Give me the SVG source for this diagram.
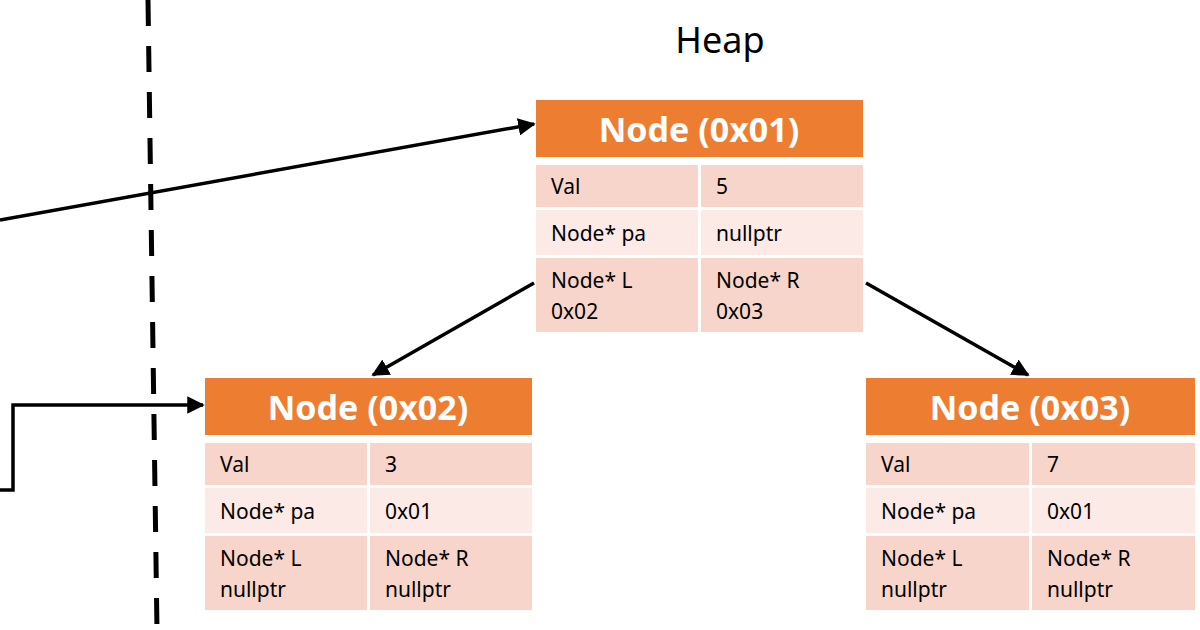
<svg xmlns="http://www.w3.org/2000/svg" width="1200" height="630" viewBox="0 0 1200 630">
<defs>
<marker id="ah" viewBox="0 0 10 10" refX="9" refY="5" markerWidth="5" markerHeight="5" orient="auto" markerUnits="strokeWidth"><path d="M0,0 L10,5 L0,10 z" fill="#000"/></marker>
<style>
.hd{fill:#ED7D31}
.dk{fill:#F8D5CB}
.lt{fill:#FBEAE6}
.ht{font-family:"Noto Sans","Open Sans",sans-serif;font-weight:bold;font-size:34px;fill:#fff;text-anchor:middle}
.tx{font-family:"Noto Sans","Open Sans",sans-serif;font-size:21px;fill:#000}
.cn{stroke:#000;stroke-width:3.5;fill:none}
</style>
</defs>
<rect width="1200" height="630" fill="#fff"/>
<line x1="148" y1="0" x2="157" y2="630" stroke="#000" stroke-width="5" stroke-dasharray="26,20"/>
<text x="720" y="53" font-family="'Noto Sans','Open Sans',sans-serif" font-size="36" text-anchor="middle">Heap</text>
<g id="node01" transform="translate(536,100)">
<rect class="hd" width="327" height="57"/>
<text class="ht" x="163" y="42">Node (0x01)</text>
<rect class="dk" y="65" width="162" height="42"/><rect class="dk" x="165" y="65" width="162" height="42"/>
<rect class="lt" y="110" width="162" height="45"/><rect class="lt" x="165" y="110" width="162" height="45"/>
<rect class="dk" y="158" width="162" height="74"/><rect class="dk" x="165" y="158" width="162" height="74"/>
<text class="tx" x="15" y="94">Val</text><text class="tx" x="180" y="94">5</text>
<text class="tx" x="15" y="141">Node* pa</text><text class="tx" x="180" y="141">nullptr</text>
<text class="tx" x="15" y="188">Node* L</text><text class="tx" x="180" y="188">Node* R</text>
<text class="tx" x="15" y="219">0x02</text><text class="tx" x="180" y="219">0x03</text>
</g>
<g id="node02" transform="translate(205,378)">
<rect class="hd" width="327" height="57"/>
<text class="ht" x="163" y="42">Node (0x02)</text>
<rect class="dk" y="65" width="162" height="42"/><rect class="dk" x="165" y="65" width="162" height="42"/>
<rect class="lt" y="110" width="162" height="45"/><rect class="lt" x="165" y="110" width="162" height="45"/>
<rect class="dk" y="158" width="162" height="74"/><rect class="dk" x="165" y="158" width="162" height="74"/>
<text class="tx" x="15" y="94">Val</text><text class="tx" x="180" y="94">3</text>
<text class="tx" x="15" y="141">Node* pa</text><text class="tx" x="180" y="141">0x01</text>
<text class="tx" x="15" y="188">Node* L</text><text class="tx" x="180" y="188">Node* R</text>
<text class="tx" x="15" y="219">nullptr</text><text class="tx" x="180" y="219">nullptr</text>
</g>
<g id="node03" transform="translate(866,378)">
<rect class="hd" width="329" height="57"/>
<text class="ht" x="164" y="42">Node (0x03)</text>
<rect class="dk" y="65" width="163" height="42"/><rect class="dk" x="166" y="65" width="163" height="42"/>
<rect class="lt" y="110" width="163" height="45"/><rect class="lt" x="166" y="110" width="163" height="45"/>
<rect class="dk" y="158" width="163" height="74"/><rect class="dk" x="166" y="158" width="163" height="74"/>
<text class="tx" x="15" y="94">Val</text><text class="tx" x="181" y="94">7</text>
<text class="tx" x="15" y="141">Node* pa</text><text class="tx" x="181" y="141">0x01</text>
<text class="tx" x="15" y="188">Node* L</text><text class="tx" x="181" y="188">Node* R</text>
<text class="tx" x="15" y="219">nullptr</text><text class="tx" x="181" y="219">nullptr</text>
</g>
<g id="connectors">
<line class="cn" x1="0" y1="220" x2="534" y2="124" marker-end="url(#ah)"/>
<polyline class="cn" points="0,490 13,490 13,405 203,405" marker-end="url(#ah)"/>
<line class="cn" x1="534" y1="283" x2="373" y2="375" marker-end="url(#ah)"/>
<line class="cn" x1="866" y1="283" x2="1028" y2="375" marker-end="url(#ah)"/>
</g>
</svg>
